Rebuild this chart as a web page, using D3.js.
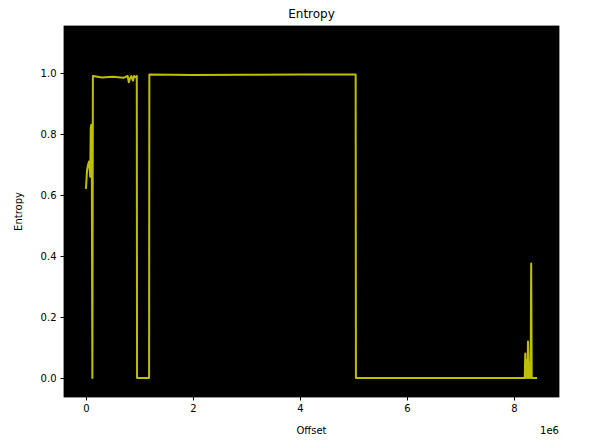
<!DOCTYPE html>
<html><head><meta charset="utf-8">
<script src="https://cdn.jsdelivr.net/npm/d3@7"></script>
<style>body{margin:0;background:#fff}text{font-family:"DejaVu Sans",sans-serif}</style>
</head><body><svg id="c" width="595" height="444"></svg>
<script>
const offsets = [0,20000,40000,60000,80000,90000,100000,110000,115000,120000,130000,300000,500000,700000,780000,800000,820000,850000,880000,900000,940000,950000,955000,1180000,1185000,2000000,3000000,4000000,5040000,5045000,6000000,8100000,8200000,8210000,8220000,8240000,8250000,8260000,8280000,8300000,8310000,8320000,8330000,8340000,8350000,8360000,8430000];
const entropy = [0.62,0.68,0.70,0.71,0.66,0.82,0.83,0.70,0.30,0.0,0.99,0.985,0.988,0.984,0.99,0.97,0.98,0.99,0.975,0.99,0.985,0.99,0.0,0.0,0.995,0.993,0.994,0.995,0.995,0.0,0.0,0.0,0.0,0.08,0.0,0.06,0.0,0.12,0.0,0.05,0.0,0.375,0.0,0.0,0.0,0.0,0.0];
const xTicks = [0,2e6,4e6,6e6,8e6];
const yTicks = [0,0.2,0.4,0.6,0.8,1.0];

const svg = d3.select("#c");
const L=64,R=559,T=26,B=397;
const x = d3.scaleLinear().domain([-0.41e6,8.84e6]).range([L,R]);
const y = d3.scaleLinear().domain([-0.0623,1.154]).range([B,T]);
svg.append("rect").attr("x",L).attr("y",T).attr("width",R-L).attr("height",B-T).attr("fill","#000");
svg.append("path").datum(offsets.map((o,i)=>[o,entropy[i]]))
 .attr("d",d3.line().x(d=>x(d[0])).y(d=>y(d[1])))
 .attr("fill","none").attr("stroke","#bfbf00").attr("stroke-width",2).attr("stroke-linejoin","round");
const xa = svg.append("g").attr("transform",`translate(0,${B})`).call(d3.axisBottom(x).tickValues(xTicks).tickFormat(d=>d/1e6).tickSizeOuter(0).tickSize(3.5).tickPadding(4));
const ya = svg.append("g").attr("transform",`translate(${L},0)`).call(d3.axisLeft(y).tickValues(yTicks).tickFormat(d3.format(".1f")).tickSizeOuter(0).tickSize(3.5).tickPadding(4));
[xa,ya].forEach(a=>{a.selectAll("text").attr("font-size",10).attr("fill","#000");a.select(".domain").remove();});
svg.append("rect").attr("x",L).attr("y",T).attr("width",R-L).attr("height",B-T).attr("fill","none").attr("stroke","#000").attr("stroke-width",0.8);
svg.append("text").attr("x",(L+R)/2).attr("y",18).attr("text-anchor","middle").attr("font-size",12).text("Entropy");
svg.append("text").attr("x",(L+R)/2).attr("y",434).attr("text-anchor","middle").attr("font-size",10).text("Offset");
svg.append("text").attr("transform",`translate(22,${(T+B)/2}) rotate(-90)`).attr("text-anchor","middle").attr("font-size",10).text("Entropy");
svg.append("text").attr("x",R).attr("y",434).attr("text-anchor","end").attr("font-size",10).text("1e6");
</script></body></html>
